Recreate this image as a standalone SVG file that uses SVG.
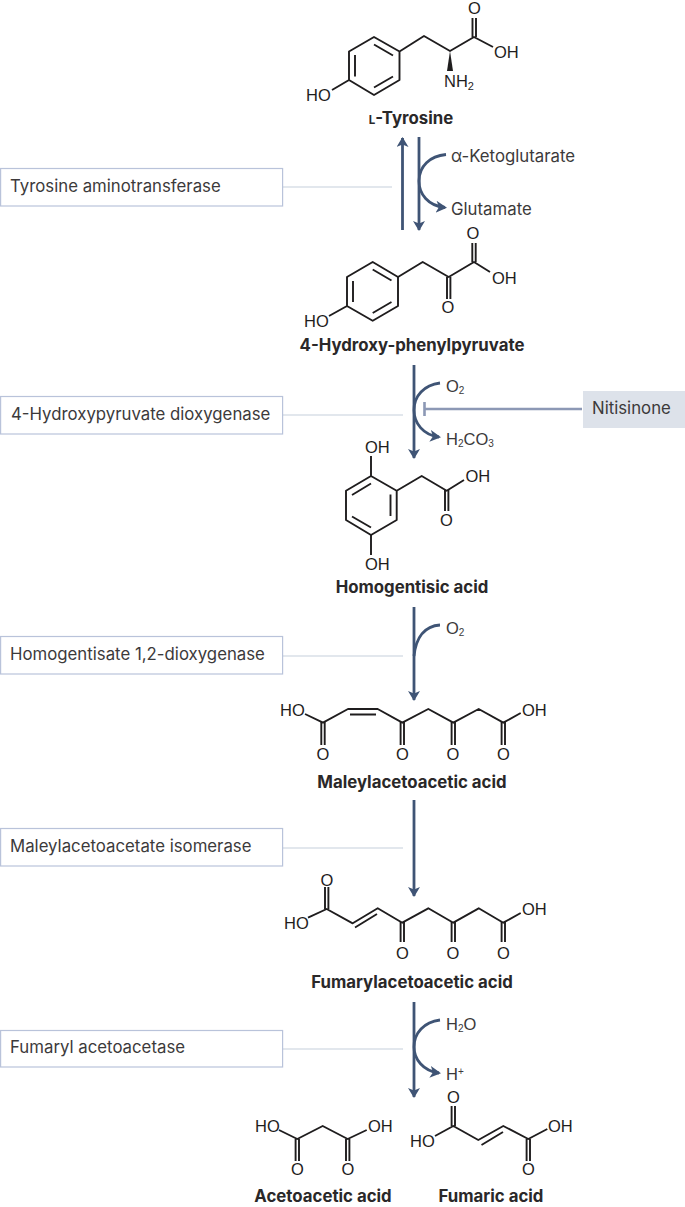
<svg xmlns="http://www.w3.org/2000/svg" width="685" height="1207" viewBox="0 0 685 1207">
<style>
text{fill:#2a2829;font-family:"Inter","Liberation Sans",sans-serif}
.a{font-family:"Liberation Sans",Arial,sans-serif;font-size:16.5px;fill:#1f1d1e}
.t{font-size:16.8px;font-weight:700;text-anchor:middle}
.l{font-size:16.8px;fill:#3c3a3b}
.s{font-size:16.5px;fill:#3c3a3b;font-family:"Liberation Sans",Arial,sans-serif}
.b{fill:none;stroke:#1f1d1e;stroke-width:1.9;stroke-linejoin:round;stroke-linecap:butt}
.box{fill:#fff;stroke:#b9c3da;stroke-width:1.2}
.lead{fill:none;stroke:#c6cfdc;stroke-width:1.2}
.p{fill:none;stroke:#3f5475;stroke-width:2.8}
.pa{marker-end:url(#ah)}
.c{fill:none;stroke:#3f5475;stroke-width:2.8;marker-end:url(#ah2)}
</style>
<defs>
<marker id="ah" markerUnits="userSpaceOnUse" markerWidth="14" markerHeight="14" refX="9" refY="6" orient="auto"><path d="M0 0L10 6L0 12L2.500 6Z" fill="#3f5475"/></marker>
<marker id="ah2" markerUnits="userSpaceOnUse" markerWidth="14" markerHeight="14" refX="9" refY="6" orient="auto"><path d="M0 0L11 6L0 12L3 6Z" fill="#3f5475"/></marker>
</defs>

<g id="connectors">
<path class="lead" d="M283 187H392M283 415H403M283 656H403M283 848H403M283 1049H403"/>
<path class="p pa" d="M402.500 230V138"/>
<path class="p pa" d="M419 137V230"/>
<path class="c" d="M446 154.500C430 156 419 166 419 181C419 194 428 206 445 207.500"/>
<path class="p pa" d="M414 365V458"/>
<path class="c" d="M440 383C424 385 414 396 414 410C414 423 423 435 439 437"/>
<path d="M582 409H425M424.500 402V416" fill="none" stroke="#8c98b5" stroke-width="2.600"/>
<path class="p pa" d="M414 607V700"/>
<path class="c" style="marker-end:none" d="M440 625C425 626 416 637 414 656"/>
<path class="p pa" d="M414 800V896"/>
<path class="p pa" d="M414 1002V1097"/>
<path class="c" d="M440 1020C424 1022 414 1033 414 1047C414 1059 423 1071 439 1073"/>
</g>

<g id="tyrosine">
<path class="b" d="M374 37L399.500 51.500V80L374 95L349 80V51.500ZM374 44.500L393 55.500M355 55V76.500M374 87.500L393 76.500M399.500 51.500L424 36L450 51L474 37L493 47M349 80L332 90"/>
<path class="b" d="M472.500 37V18M476 37V18"/>
<path d="M450 51L447 71H453Z" fill="#1f1d1e"/>
<text class="a" x="468" y="14">O</text><text class="a" x="494" y="58">OH</text>
<text class="a" x="444" y="87">NH<tspan font-size="11" dy="3">2</tspan></text><text class="a" x="306" y="101">HO</text>
<text class="t" x="411" y="124"><tspan font-size="11.500">L</tspan>-Tyrosine</text>
</g>

<g id="hydroxyphenylpyruvate">
<path class="b" d="M372.700 262L398 277V306L372.700 320.700L347 306V277ZM372.700 269.500L391.500 280.500M353 281V302M372.700 313L391.500 302M398 277L422.700 262L448.700 277L474 262L490 272M347 306L329 316"/>
<path class="b" d="M472.300 262V243M475.700 262V243M447 277V299M450.400 277V299"/>
<text class="a" x="466.500" y="238.500">O</text><text class="a" x="492" y="284">OH</text><text class="a" x="441.500" y="312.500">O</text><text class="a" x="304" y="327">HO</text>
<text class="t" x="412" y="351">4-Hydroxy-phenylpyruvate</text>
</g>

<g id="homogentisic">
<path class="b" d="M371 476L396.700 490.700V520L371 535L346 520V490.700ZM371 483.500L352 495M390.500 494.500V516M371 527.500L352 516.500M396.700 490.700L421.700 476L446.700 490.700L464 480M371 476V456M371 535V555"/>
<path class="b" d="M445 490V511M448.400 490V511"/>
<text class="a" x="365" y="453">OH</text><text class="a" x="465.500" y="482">OH</text><text class="a" x="440" y="526">O</text><text class="a" x="365" y="570">OH</text>
<text class="t" x="412" y="593">Homogentisic acid</text>
</g>

<g id="maleylacetoacetic">
<path class="b" d="M305 714L323 722.700L348 709H377.700L402.300 722.700L428.300 709L453.300 722.700L478.700 709L503.300 722.700L520.700 713M350 714.500H376"/>
<path class="b" d="M321.300 722V745M324.700 722V745M400.600 722V745M404 722V745M451.600 722V745M455 722V745M501.600 722V745M505 722V745"/>
<text class="a" x="280" y="716">HO</text><text class="a" x="522" y="716">OH</text>
<text class="a" x="316.500" y="760">O</text><text class="a" x="396" y="760">O</text><text class="a" x="446.500" y="760">O</text><text class="a" x="497" y="760">O</text>
<text class="t" x="412" y="788">Maleylacetoacetic acid</text>
</g>

<g id="fumarylacetoacetic">
<path class="b" d="M308 917.700L326.700 909L352.700 923.300L377.700 908.300L402.300 922.700L428.300 908.300L453.300 922.700L478.700 908.300L503.300 922.700L520.700 913M355 927.500L377 914"/>
<path class="b" d="M325 909V887M328.400 909V887M400.600 922V942M404 922V942M451.600 922V942M455 922V942M501.600 922V942M505 922V942"/>
<text class="a" x="320.500" y="885.500">O</text><text class="a" x="284" y="929">HO</text><text class="a" x="522" y="915">OH</text>
<text class="a" x="396" y="958.500">O</text><text class="a" x="446.500" y="958.500">O</text><text class="a" x="497" y="958.500">O</text>
<text class="t" x="412" y="988">Fumarylacetoacetic acid</text>
</g>

<g id="acetoacetic">
<path class="b" d="M279 1130L297.300 1139L322.700 1126L347.700 1139L366.700 1130M295.600 1139V1161M299 1139V1161M346 1139V1161M349.400 1139V1161"/>
<text class="a" x="255" y="1132">HO</text><text class="a" x="368" y="1132">OH</text>
<text class="a" x="291" y="1175">O</text><text class="a" x="341.500" y="1175">O</text>
<text class="t" x="323" y="1202">Acetoacetic acid</text>
</g>

<g id="fumaric">
<path class="b" d="M435 1136L453.300 1126L478.300 1140L503.300 1126L528.300 1139L547.300 1129M481.500 1145L503 1132M451.600 1126V1106M455 1126V1106M526.600 1139V1161M530 1139V1161"/>
<text class="a" x="447" y="1103">O</text><text class="a" x="410" y="1147">HO</text><text class="a" x="548" y="1132">OH</text><text class="a" x="522" y="1175">O</text>
<text class="t" x="491" y="1202">Fumaric acid</text>
</g>

<g id="cofactors">
<text class="l" x="451" y="162">α-Ketoglutarate</text>
<text class="l" x="451" y="215">Glutamate</text>
<text class="s" x="446" y="392">O<tspan font-size="10" dy="2">2</tspan></text>
<text class="s" x="446" y="445">H<tspan font-size="10" dy="2">2</tspan><tspan dy="-2">CO</tspan><tspan font-size="10" dy="2">3</tspan></text>
<text class="s" x="446" y="634">O<tspan font-size="10" dy="2">2</tspan></text>
<text class="s" x="446" y="1030">H<tspan font-size="10" dy="2">2</tspan><tspan dy="-2">O</tspan></text>
<text class="s" x="446" y="1080">H<tspan font-size="10" dy="-5">+</tspan></text>
</g>

<g id="enzyme-tyrosine-aminotransferase"><rect class="box" x="0.600" y="168.500" width="282" height="37.500"/><text class="l" x="10" y="192">Tyrosine aminotransferase</text></g>
<g id="enzyme-hydroxypyruvate-dioxygenase"><rect class="box" x="0.600" y="396.500" width="282" height="37.500"/><text class="l" x="11" y="420">4-Hydroxypyruvate dioxygenase</text></g>
<g id="enzyme-homogentisate-dioxygenase"><rect class="box" x="0.600" y="636.500" width="282" height="37.500"/><text class="l" x="10" y="660">Homogentisate 1,2-dioxygenase</text></g>
<g id="enzyme-maleylacetoacetate-isomerase"><rect class="box" x="0.600" y="828.500" width="282" height="37.500"/><text class="l" x="10" y="852">Maleylacetoacetate isomerase</text></g>
<g id="enzyme-fumaryl-acetoacetase"><rect class="box" x="0.600" y="1030.500" width="282" height="36.500"/><text class="l" x="10" y="1053">Fumaryl acetoacetase</text></g>
<g id="nitisinone"><rect x="583" y="391" width="102" height="37" fill="#dde2ea"/><text class="l" x="592" y="414">Nitisinone</text></g>
</svg>
